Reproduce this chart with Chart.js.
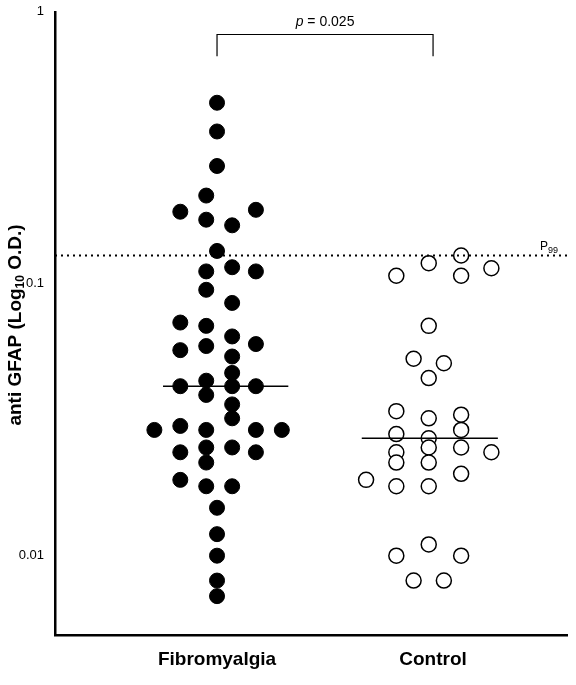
<!DOCTYPE html>
<html>
<head>
<meta charset="utf-8">
<script src="https://cdn.jsdelivr.net/npm/chart.js@4"></script>
<style>
  body { margin: 0; background: #fff; }
  #wrap { width: 576px; height: 685px; }
</style>
</head>
<body>
<div id="wrap"><canvas id="c"></canvas></div>
<script>
const categories = ['Fibromyalgia', 'Control'];

// jittered x positions (category units) and O.D. values
const fibroX = [1,1,1,0.95,0.83,0.95,1.07,1.18,1,0.95,1.07,1.18,0.95,1.07,0.83,0.95,1.07,0.83,0.95,1.07,1.18,1.07,0.83,0.95,1.07,1.18,0.95,1.07,0.71,0.83,0.95,1.07,1.18,1.3,0.83,0.95,1.07,1.18,0.95,0.83,0.95,1.07,1,1,1,1,1];
const fibroY = [0.463,0.363,0.271,0.211,0.184,0.172,0.164,0.187,0.132,0.111,0.115,0.111,0.095,0.085,0.072,0.070,0.064,0.057,0.059,0.054,0.060,0.047,0.042,0.044,0.042,0.042,0.039,0.036,0.029,0.030,0.029,0.032,0.029,0.029,0.024,0.025,0.025,0.024,0.022,0.019,0.018,0.018,0.0150,0.0120,0.0100,0.0081,0.0071];

const ctrlX = [1.83,1.98,2.13,2.13,2.27,1.98,1.91,2.05,1.98,1.83,1.98,2.13,1.83,1.98,2.13,1.83,1.98,2.13,2.27,1.83,1.98,2.13,1.69,1.83,1.98,1.83,1.98,2.13,1.91,2.05];
const ctrlY = [0.107,0.119,0.127,0.107,0.114,0.070,0.053,0.051,0.045,0.034,0.032,0.033,0.028,0.027,0.029,0.024,0.025,0.025,0.024,0.022,0.022,0.020,0.019,0.018,0.018,0.010,0.011,0.010,0.0081,0.0081];

const medians = [0.042, 0.027];
const p99 = 0.127;
const pText = '= 0.025';
const yTicks = [1, 0.1, 0.01];

const toPts = (xs, ys) => xs.map((x, i) => ({ x: x, y: ys[i] }));

const overlay = {
  id: 'overlay',
  afterDatasetsDraw(chart) {
    const { ctx, scales: { x, y }, chartArea } = chart;
    ctx.save();
    ctx.strokeStyle = '#000';
    // medians
    ctx.lineWidth = 1.5;
    [[0.75, 1.33], [1.67, 2.3]].forEach((r, i) => {
      ctx.beginPath();
      ctx.moveTo(x.getPixelForValue(r[0]), y.getPixelForValue(medians[i]));
      ctx.lineTo(x.getPixelForValue(r[1]), y.getPixelForValue(medians[i]));
      ctx.stroke();
    });
    // P99 dotted line
    ctx.lineWidth = 2;
    ctx.setLineDash([2, 4]);
    ctx.beginPath();
    const yp = y.getPixelForValue(p99);
    ctx.moveTo(chartArea.left, yp);
    ctx.lineTo(chartArea.right, yp);
    ctx.stroke();
    ctx.setLineDash([]);
    ctx.fillStyle = '#000';
    ctx.font = '12px Arial, "Liberation Sans"';
    ctx.textAlign = 'left';
    ctx.textBaseline = 'alphabetic';
    ctx.fillText('P', 540, yp - 6);
    ctx.font = '9px Arial, "Liberation Sans"';
    ctx.fillText('99', 548, yp - 3);
    // bracket
    const x1 = x.getPixelForValue(1), x2 = x.getPixelForValue(2);
    const yt = y.getPixelForValue(0.825), yb = y.getPixelForValue(0.686);
    ctx.lineWidth = 1.2;
    ctx.beginPath();
    ctx.moveTo(x1, yb); ctx.lineTo(x1, yt); ctx.lineTo(x2, yt); ctx.lineTo(x2, yb);
    ctx.stroke();
    ctx.font = 'italic 14px Arial, "Liberation Sans"';
    const mid = (x1 + x2) / 2;
    const w1 = ctx.measureText('p ').width;
    ctx.font = '14px Arial, "Liberation Sans"';
    const w2 = ctx.measureText(pText).width;
    let sx = mid - (w1 + w2) / 2;
    ctx.font = 'italic 14px Arial, "Liberation Sans"';
    ctx.fillText('p', sx, yt - 9);
    ctx.font = '14px Arial, "Liberation Sans"';
    ctx.fillText(pText, sx + w1, yt - 9);
    // y title with subscript
    ctx.translate(9, 325);
    ctx.rotate(-Math.PI / 2);
    const parts = [['anti GFAP (Log', 'bold 19px Arial, "Liberation Sans"', 0], ['10', 'bold 12px Arial, "Liberation Sans"', 5], [' O.D.)', 'bold 19px Arial, "Liberation Sans"', 0]];
    let tw = 0;
    parts.forEach(p => { ctx.font = p[1]; tw += ctx.measureText(p[0]).width; });
    let cx = -tw / 2;
    ctx.textBaseline = 'middle';
    parts.forEach(p => { ctx.font = p[1]; ctx.fillText(p[0], cx, 7 + p[2]); cx += ctx.measureText(p[0]).width; });
    ctx.restore();
  }
};

new Chart(document.getElementById('c'), {
  type: 'scatter',
  data: {
    datasets: [
      { data: toPts(fibroX, fibroY), pointRadius: 7.5, pointBackgroundColor: '#000', pointBorderColor: '#000', pointBorderWidth: 1 },
      { data: toPts(ctrlX, ctrlY), pointRadius: 7.5, pointBackgroundColor: '#fff', pointBorderColor: '#000', pointBorderWidth: 1.5 }
    ]
  },
  options: {
    responsive: true,
    maintainAspectRatio: false,
    animation: false,
    layout: { padding: { top: 10, right: 6, left: 0, bottom: 8 } },
    plugins: { legend: { display: false }, tooltip: { enabled: false } },
    scales: {
      x: {
        type: 'linear', min: 0.25, max: 2.62,
        afterBuildTicks: s => { s.ticks = [{ value: 1 }, { value: 2 }]; },
        ticks: {
          callback: v => categories[v - 1],
          color: '#000', font: { size: 19, weight: 'bold', family: 'Arial, "Liberation Sans"' }, padding: 6
        },
        grid: { display: false, drawTicks: true, tickLength: 7, tickColor: '#000', tickWidth: 2.5 },
        border: { color: '#000', width: 2.5 }
      },
      y: {
        type: 'logarithmic', min: 0.0051, max: 1,
        afterBuildTicks: s => { s.ticks = yTicks.map(v => ({ value: v })); },
        afterFit: s => { s.width = 55; },
        ticks: {
          callback: v => String(v),
          color: '#000', font: { size: 13, family: 'Arial, "Liberation Sans"' }, padding: 4
        },
        grid: { display: false, drawTicks: true, tickLength: 7, tickColor: '#000', tickWidth: 2.5 },
        border: { color: '#000', width: 2.5 }
      }
    }
  },
  plugins: [overlay]
});
</script>
</body>
</html>
